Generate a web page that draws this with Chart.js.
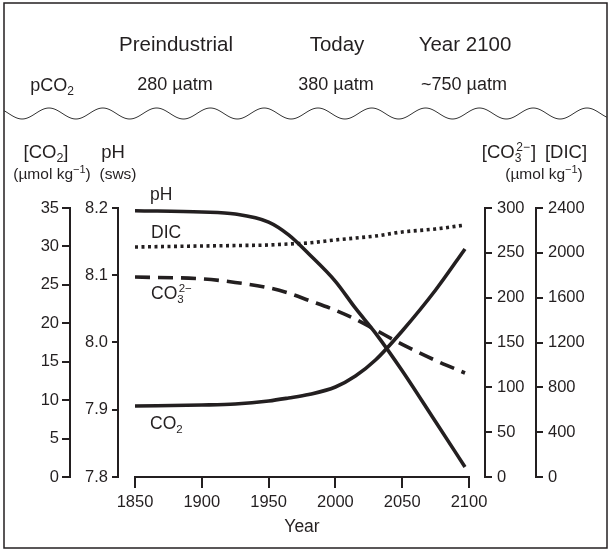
<!DOCTYPE html>
<html>
<head>
<meta charset="utf-8">
<script src="https://cdn.jsdelivr.net/npm/chart.js@4.4.1/dist/chart.umd.min.js"></script>
<style>
  html, body { margin: 0; padding: 0; background: #fff; }
  #wrap { width: 612px; height: 553px; position: relative; }
</style>
</head>
<body>
<div id="wrap"><canvas id="chart"></canvas></div>
<script>
// values
const years = [1850, 1900, 1925, 1950, 1965, 1980, 2000, 2015, 2030, 2050, 2075, 2097];
const phVals  = [8.196, 8.194, 8.191, 8.179, 8.160, 8.132, 8.091, 8.051, 8.014, 7.958, 7.882, 7.815];
const co2Vals = [9.24, 9.37, 9.50, 9.89, 10.28, 10.73, 11.71, 13.14, 15.22, 19.0, 24.33, 29.67];
const dicVals = [2052, 2061, 2065, 2070, 2079, 2088, 2115, 2132, 2150, 2186, 2213, 2248];
const co3Vals = [223, 221, 217, 211, 205, 197, 186, 176, 164, 148, 130, 116];

const yearTicks = [1850, 1900, 1950, 2000, 2050, 2100];
const co2Ticks = [0, 5, 10, 15, 20, 25, 30, 35];
const phTicks = [7.8, 7.9, 8.0, 8.1, 8.2];
const co3Ticks = [0, 50, 100, 150, 200, 250, 300];
const dicTicks = [0, 400, 800, 1200, 1600, 2000, 2400];

const eras = ['Preindustrial', 'Today', 'Year 2100'];
const pco2Levels = ['280 µatm', '380 µatm', '~750 µatm'];

const ink = '#231f20';
const FAM = '"Liberation Sans", Arial, Helvetica, sans-serif';

function pts(vals) { return years.map((x, i) => ({ x: x, y: vals[i] })); }

// draws text made of runs: [text, size, dy, dx]
function rich(ctx, x, y, parts, align) {
    let w = 0;
    const ws = parts.map(p => {
        ctx.font = p[1] + 'px ' + FAM;
        const m = ctx.measureText(p[0]).width + (p[3] || 0);
        w += m;
        return m;
    });
    let cx = align === 'center' ? x - w / 2 : (align === 'right' ? x - w : x);
    ctx.textAlign = 'left';
    ctx.textBaseline = 'alphabetic';
    parts.forEach((p, i) => {
        ctx.font = p[1] + 'px ' + FAM;
        ctx.fillText(p[0], cx, y + (p[2] || 0));
        cx += ws[i];
    });
}

const decor = {
    id: 'decor',
    afterDraw(chart) {
        const ctx = chart.ctx;
        ctx.save();
        ctx.fillStyle = ink;
        ctx.strokeStyle = ink;

        // frame
        ctx.lineWidth = 1.5;
        ctx.strokeRect(4, 3, 603, 545);

        // wavy break line
        ctx.lineWidth = 1;
        ctx.strokeStyle = '#333';
        ctx.beginPath();
        for (let x = 4; x <= 607; x += 1) {
            const y = 113.5 - 5.5 * Math.cos(2 * Math.PI * (x - 49) / 53.8);
            if (x === 4) ctx.moveTo(x, y); else ctx.lineTo(x, y);
        }
        ctx.stroke();

        // header
        const hx = [176, 337, 465];
        eras.forEach((t, i) => rich(ctx, hx[i], 51, [[t, 20.5]], 'center'));
        pco2Levels.forEach((t, i) => rich(ctx, hx[i] - 1, 90, [[t, 18]], 'center'));
        rich(ctx, 52, 91, [['pCO', 18], ['2', 12, 4]], 'center');

        // axis titles
        rich(ctx, 46, 158, [['[CO', 18.5], ['2', 12.5, 4], [']', 18.5]], 'center');
        rich(ctx, 52, 179, [['(µmol kg', 15.5], ['−1', 11, -6], [')', 15.5]], 'center');
        rich(ctx, 113, 158, [['pH', 18.5]], 'center');
        rich(ctx, 118, 179, [['(sws)', 15.5]], 'center');
        rich(ctx, 509, 158, [['[CO', 18.5], ['3', 12, 4, -5], ['2−', 12, -7, 1], [']', 18.5]], 'center');
        rich(ctx, 566, 158, [['[DIC]', 18.5]], 'center');
        rich(ctx, 544, 179, [['(µmol kg', 15.5], ['−1', 11, -6], [')', 15.5]], 'center');

        // series labels next to the start of each curve
        const lx = chart.chartArea.left + 15;
        const y0 = i => chart.getDatasetMeta(i).data[0].y;
        rich(ctx, lx, y0(0) - 11, [['pH', 17.5]]);
        rich(ctx, lx + 1, y0(2) - 9, [['DIC', 17.5]]);
        rich(ctx, lx + 1, y0(3) + 22, [['CO', 17.5], ['3', 11.5, 4, -5], ['2−', 11.5, -7]]);
        rich(ctx, lx, y0(1) + 23, [['CO', 17.5], ['2', 11.5, 4]]);
        ctx.restore();
    }
};

function yAxis(pos, weight, min, max, ticks, tl, pad, width, fmt) {
    return {
        type: 'linear', position: pos, weight: weight, min: min, max: max,
        afterBuildTicks: s => { s.ticks = ticks.map(v => ({ value: v })); },
        afterFit: s => { s.width = width; },
        grid: { display: true, drawOnChartArea: false, drawTicks: true, tickLength: tl, tickWidth: 2, tickColor: ink, color: ink, lineWidth: 2 },
        border: { display: true, color: ink, width: 2 },
        ticks: { color: ink, font: { family: FAM, size: 16.5 }, padding: pad, callback: fmt }
    };
}

function gapAxis(pos, width) {
    return {
        type: 'linear', position: pos, weight: 1, min: 0, max: 1,
        grid: { display: false }, border: { display: false }, ticks: { display: false },
        afterFit: s => { s.width = width; }
    };
}

const solid = { borderColor: ink, borderWidth: 3.6, pointRadius: 0, fill: false, cubicInterpolationMode: 'monotone' };

new Chart(document.getElementById('chart'), {
    type: 'line',
    data: {
        datasets: [
            Object.assign({ label: 'pH', data: pts(phVals), yAxisID: 'yPH' }, solid),
            Object.assign({ label: 'CO2', data: pts(co2Vals), yAxisID: 'yCO2' }, solid),
            Object.assign({ label: 'DIC', data: pts(dicVals), yAxisID: 'yDIC' }, solid, { borderDash: [3, 3.5], borderCapStyle: 'butt' }),
            Object.assign({ label: 'CO3', data: pts(co3Vals), yAxisID: 'yCO3' }, solid, { borderDash: [15, 8] })
        ]
    },
    options: {
        responsive: true,
        maintainAspectRatio: false,
        devicePixelRatio: 1,
        animation: false,
        layout: { padding: { left: 10, right: 16, top: 208, bottom: 6 } },
        plugins: { legend: { display: false }, tooltip: { enabled: false } },
        scales: {
            x: {
                type: 'linear', position: 'bottom', min: 1850, max: 2100,
                afterBuildTicks: s => { s.ticks = yearTicks.map(v => ({ value: v })); },
                afterFit: s => { s.height = 70; },
                grid: { display: true, drawOnChartArea: false, drawTicks: true, tickLength: 11, tickWidth: 2, tickColor: ink, color: ink, lineWidth: 2 },
                border: { display: true, color: ink, width: 2 },
                ticks: { color: ink, font: { family: FAM, size: 16.5 }, padding: 5, maxRotation: 0, callback: v => String(v) },
                title: { display: true, text: 'Year', color: ink, font: { family: FAM, size: 17.5 }, padding: { top: 0, bottom: 9 } }
            },
            yCO2: yAxis('left', 3, 0, 35, co2Ticks, 8, 3, 60, v => String(v)),
            yPH: yAxis('left', 2, 7.8, 8.2, phTicks, 6, 4, 48, v => v.toFixed(1)),
            gapL: gapAxis('left', 17),
            gapR: gapAxis('right', 16),
            yCO3: yAxis('right', 2, 0, 300, co3Ticks, 7, 5, 51, v => String(v)),
            yDIC: yAxis('right', 3, 0, 2400, dicTicks, 7, 5, 60, v => String(v))
        }
    },
    plugins: [decor]
});
</script>
</body>
</html>
